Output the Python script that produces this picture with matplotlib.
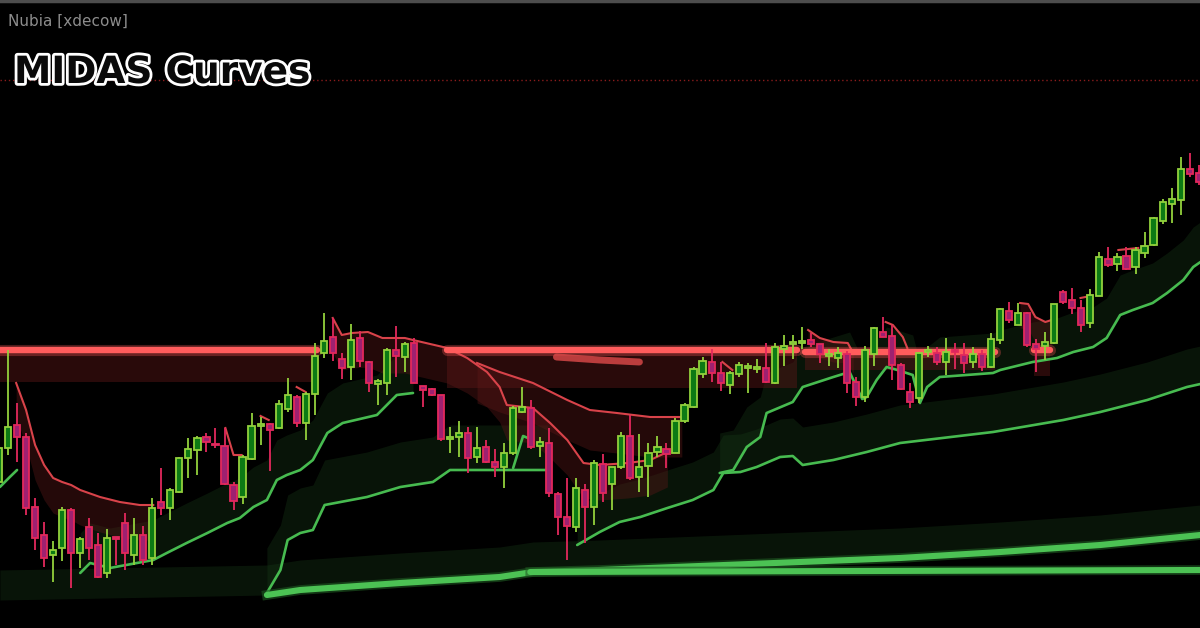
import numpy as np
import matplotlib.pyplot as plt
import matplotlib.patheffects as pe

# OHLC (arbitrary price units), one bar per session
open_ = [146, 180, 203, 191, 121, 93, 73, 80, 118, 75, 101, 83, 55, 91, 105, 73, 93, 70, 126, 120,
         136, 170, 178, 191, 184, 182, 143, 131, 169, 202, 204, 200, 219, 231, 205, 234, 275, 291, 269, 261,
         290, 266, 244, 245, 278, 271, 285, 242, 239, 233, 189, 191, 195, 171, 181, 166, 161, 175, 216, 220,
         182, 185, 134, 111, 101, 138, 121, 164, 144, 161, 192, 151, 162, 176, 179, 175, 207, 221, 254, 266,
         255, 243, 254, 260, 259, 260, 245, 279, 284, 285, 288, 284, 272, 270, 274, 246, 231, 274, 296, 292,
         263, 236, 230, 276, 275, 266, 278, 273, 266, 274, 261, 288, 317, 303, 315, 284, 282, 285, 336, 328,
         320, 305, 332, 369, 364, 372, 361, 375, 383, 407, 424, 428, 459, 455]
high = [188, 278, 225, 195, 130, 106, 87, 121, 120, 91, 110, 95, 99, 91, 115, 110, 102, 130, 160, 140,
        171, 190, 192, 195, 200, 200, 146, 173, 215, 211, 205, 228, 250, 233, 236, 285, 315, 310, 275, 304,
        297, 267, 249, 280, 302, 286, 290, 242, 240, 233, 201, 207, 201, 201, 188, 179, 185, 222, 241, 228,
        191, 200, 136, 150, 150, 144, 168, 174, 161, 196, 213, 194, 185, 192, 185, 210, 225, 261, 271, 279,
        266, 257, 266, 265, 269, 285, 285, 293, 293, 301, 295, 284, 279, 281, 277, 251, 282, 301, 311, 303,
        265, 245, 276, 282, 281, 290, 285, 285, 281, 278, 295, 320, 326, 325, 316, 289, 296, 324, 338, 340,
        328, 339, 376, 381, 375, 381, 381, 396, 411, 429, 440, 471, 475, 463]
low = [140, 173, 166, 113, 78, 61, 46, 67, 40, 60, 68, 50, 50, 63, 58, 63, 63, 63, 113, 108,
       135, 150, 153, 176, 180, 143, 118, 124, 168, 183, 157, 199, 216, 201, 188, 213, 270, 267, 249, 248,
       261, 236, 223, 233, 251, 256, 245, 221, 232, 187, 175, 171, 155, 165, 165, 151, 140, 173, 215, 179,
       171, 131, 93, 68, 96, 85, 103, 126, 118, 159, 148, 136, 131, 171, 160, 196, 205, 220, 250, 246,
       237, 234, 251, 235, 255, 245, 244, 262, 269, 279, 281, 265, 262, 260, 235, 222, 226, 262, 291, 248,
       238, 220, 225, 271, 263, 253, 259, 255, 260, 257, 260, 284, 305, 303, 281, 256, 268, 284, 324, 314,
       296, 300, 332, 361, 357, 358, 354, 370, 382, 404, 405, 413, 451, 443]
close = [180, 201, 191, 120, 90, 70, 78, 118, 75, 89, 80, 51, 90, 89, 75, 93, 68, 120, 120, 138,
         170, 179, 190, 186, 183, 144, 127, 171, 202, 204, 198, 224, 233, 205, 234, 272, 287, 275, 260, 288,
         267, 245, 247, 278, 272, 284, 245, 238, 233, 189, 191, 195, 170, 180, 166, 161, 175, 220, 221, 181,
         186, 135, 111, 102, 140, 121, 165, 135, 161, 192, 150, 161, 175, 181, 174, 207, 223, 259, 267, 255,
         245, 255, 263, 262, 261, 246, 281, 282, 286, 287, 284, 274, 274, 275, 245, 231, 278, 300, 291, 263,
         239, 226, 275, 278, 266, 276, 276, 265, 274, 261, 289, 319, 308, 315, 283, 279, 286, 324, 326, 320,
         303, 333, 371, 363, 371, 359, 378, 382, 410, 426, 429, 459, 454, 446]

# MIDAS resistance curves (bar index, price)
r1_x = [1.9, 3.0, 4.0, 5.0, 6.0, 7.0, 8.0, 9.0, 11.2, 13.4, 15.6, 17.1]
r1_y = [245, 218, 183, 163, 150, 146, 143, 138, 131, 126, 123, 123]
r2_x = [25.1, 26.0, 26.9]
r2_y = [200, 173, 173]
r3_x = [29.0, 29.9]
r3_y = [212, 208]
r4_x = [33.0, 34.0]
r4_y = [241, 236]
r5_x = [37.0, 38.0, 39.1, 40.9, 42.5, 45.0, 45.9, 49.7, 51.9, 54.1, 55.5, 56.3, 59.2, 61.1, 63.0,
        64.8, 66.6, 69.7, 72.2, 74.1]
r5_y = [310, 293, 295, 296, 290, 290, 288, 280, 270, 256, 241, 223, 220, 205, 188, 165, 163, 165, 168, 176]
r6_x = [53.0, 55.5, 59.2, 63.0, 65.5, 68.5, 72.2, 75.7]
r6_y = [265, 256, 245, 228, 218, 215, 211, 211]
r7_x = [80.2, 81.3]
r7_y = [266, 258]
r8_x = [89.7, 91.0, 92.5, 94.1, 94.7]
r8_y = [298, 290, 286, 285, 275]
r9_x = [98.3, 99.1, 100.2, 100.7]
r9_y = [306, 303, 291, 280]
r10_x = [113.2, 114.1, 114.9, 116.0, 116.7]
r10_y = [325, 324, 311, 306, 308]
r11_x = [119.9, 121.0]
r11_y = [330, 332]
r12_x = [124.1, 126.3]
r12_y = [378, 380]

# MIDAS support curves
g0_x = [0.1, 1.2, 2.0]
g0_y = [141, 151, 158]
g1_x = [9.0, 10.1, 12.3, 17.1, 18.6, 20.8, 23.1, 25.3, 26.7, 28.2, 29.7, 30.8, 31.9, 33.4, 34.8,
        36.4, 38.1, 41.9, 44.1, 45.9]
g1_y = [55, 65, 60, 68, 75, 85, 95, 105, 110, 121, 128, 148, 153, 158, 168, 195, 205, 213, 233, 235]
g2_x = [29.7, 31.2, 32.0, 33.4, 34.8, 36.1, 40.8, 44.5, 48.1, 50.0, 60.8]
g2_y = [35, 58, 88, 95, 98, 123, 131, 141, 146, 158, 158]
gs_x = [57.0, 58.1, 59.2]
gs_y = [160, 192, 188]
g3_x = [64.1, 66.6, 68.8, 71.1, 74.1, 76.9, 79.2, 80.3, 82.2, 84.0, 86.6, 88.0, 89.1, 92.5, 96.2,
        99.9, 110.2, 118.0, 122.1, 127.3, 131.7, 133.2]
g3_y = [83, 96, 106, 111, 120, 128, 138, 155, 156, 161, 171, 172, 163, 168, 176, 185, 196, 208, 216,
        228, 241, 244]
g4_x = [79.9, 81.4, 82.9, 84.4, 85.1, 88.0, 89.1, 92.5, 94.3, 95.7, 96.2, 97.3, 98.4, 99.6, 101.3,
        102.1, 102.9, 104.3, 110.2, 111.0, 114.6, 117.3, 119.1, 121.3, 122.8, 124.3, 125.7, 127.9,
        129.5, 131.3, 132.4, 133.2]
g4_y = [155, 158, 181, 191, 215, 226, 241, 251, 256, 229, 231, 248, 261, 258, 253, 225, 241, 251,
        255, 258, 266, 270, 276, 281, 290, 313, 318, 325, 335, 348, 361, 366]
g5_x = [29.7, 33.4, 44.5, 55.5, 59.2, 66.6, 77.7, 88.8, 99.9, 111.0, 122.1, 133.2]
g5_y = [33, 38, 45, 51, 56, 58, 62, 66, 70, 76, 83, 93]
g6_x = [58.9, 133.2]
g6_y = [56, 58]

# horizontal resistance levels
lvl_start = [0.1, 49.7, 89.4, 114.8]
lvl_end = [35.3, 88.5, 110.4, 116.5]
lvl_price = [278, 278, 276, 278]
lvl_floor = [246, 240, 258, 252]
smear_x = [61.8, 66.6, 71.0]
smear_y = [271, 268, 266]
top_level = 548

fig = plt.figure(figsize=(12, 6.28), dpi=100)
fig.patch.set_facecolor('black')
ax = fig.add_axes([0, 0, 1, 1])
ax.set_facecolor('black')
ax.set_xlim(0.11, 133.15)
ax.set_ylim(0, 628)
ax.axis('off')

# bands
band_green = '#173a17'
band_red = '#5c1818'
for xs, ys, d in [(g1_x, g1_y, 40), (g2_x, g2_y, 45), (g3_x, g3_y, 38), (g4_x, g4_y, 40),
                  (g5_x, g5_y, 30)]:
    ys = np.array(ys)
    ax.fill_between(xs, ys, ys + d, color=band_green, alpha=0.36, lw=0, zorder=1)
ax.fill_between([0.1, 29.7], [28, 33], [58, 63], color=band_green, alpha=0.36, lw=0, zorder=1)
for xs, ys, d in [(r1_x, r1_y, 35), (r5_x, r5_y, 35), (r6_x, r6_y, 40), (r8_x, r8_y, 20),
                  (r10_x, r10_y, 25)]:
    ys = np.array(ys)
    ax.fill_between(xs, ys - d, ys, color=band_red, alpha=0.4, lw=0, zorder=1)
for x0, x1, p, f in zip(lvl_start, lvl_end, lvl_price, lvl_floor):
    ax.fill_between([x0, x1], [f, f], [p, p], color=band_red, alpha=0.45, lw=0, zorder=1)

# support curves
for xs, ys in [(g0_x, g0_y), (g1_x, g1_y), (g2_x, g2_y), (gs_x, gs_y), (g3_x, g3_y), (g4_x, g4_y)]:
    ax.plot(xs, ys, color='#47bb50', lw=1.9, zorder=2, solid_capstyle='round')
for xs, ys in [(g5_x, g5_y), (g6_x, g6_y)]:
    ax.plot(xs, ys, color='#1f5a22', lw=7, alpha=0.6, zorder=2)
    ax.plot(xs, ys, color='#4cc254', lw=4.4, zorder=2, solid_capstyle='round')

# resistance curves
for xs, ys in [(r1_x, r1_y), (r2_x, r2_y), (r3_x, r3_y), (r4_x, r4_y), (r5_x, r5_y), (r6_x, r6_y),
               (r7_x, r7_y), (r8_x, r8_y), (r9_x, r9_y), (r10_x, r10_y), (r11_x, r11_y), (r12_x, r12_y)]:
    ax.plot(xs, ys, color='#d8434a', lw=1.5, zorder=2)

# horizontal levels
for x0, x1, p in zip(lvl_start, lvl_end, lvl_price):
    ax.plot([x0, x1], [p, p], color='#ff5a5a', lw=8, alpha=0.3, zorder=2.5, solid_capstyle='round')
    ax.plot([x0, x1], [p, p], color='#ff5c5c', lw=4.6, zorder=2.5, solid_capstyle='round')
ax.plot(smear_x, smear_y, color='#e04a4a', lw=5, alpha=0.8, zorder=2.5, solid_capstyle='round')
ax.axhline(top_level, color='#8a1c1c', lw=1, ls=(0, (1, 2)), zorder=1)

# candles
x = np.arange(len(open_))
o = np.array(open_)
c = np.array(close)
up = c >= o
wick_col = np.where(up, '#93d13c', '#e3285c')
face_col = np.where(up, '#0c7a14', '#9e2170')
ax.vlines(x, low, high, colors=wick_col, lw=1.3, zorder=3)
bottom = np.minimum(o, c)
height = np.maximum(np.abs(c - o), 1.5)
ax.bar(x, height, bottom=bottom, width=0.68, color=face_col, edgecolor=wick_col, linewidth=1.3, zorder=4)

# header
ax.axhline(627, color='#4d4d4d', lw=2.5, zorder=5)
fig.text(8 / 1200, 1 - 21 / 628, 'Nubia [xdecow]', color='#8c8c8c', fontsize=11,
         family='DejaVu Sans', va='center', ha='left')
fig.text(14 / 1200, 1 - 73 / 628, 'MIDAS Curves', color='#0a0a0a', fontsize=27,
         fontweight='bold', family='DejaVu Sans', va='center', ha='left',
         path_effects=[pe.Stroke(linewidth=4, foreground='white'), pe.Normal()])

fig.savefig('out.png', dpi=100, facecolor='black')
